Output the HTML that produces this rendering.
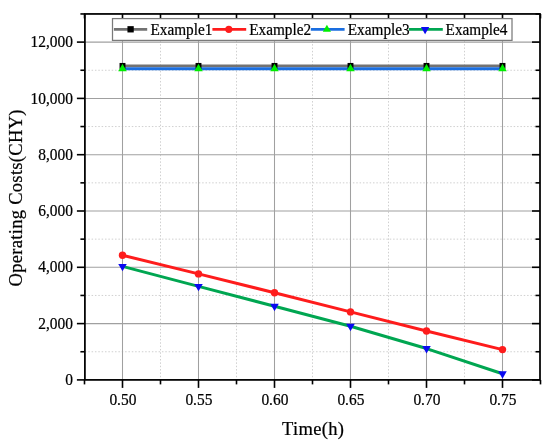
<!DOCTYPE html><html><head><meta charset="utf-8"><style>html,body{margin:0;padding:0;background:#fff}svg{display:block}text{font-family:"Liberation Serif", "Times New Roman", serif;stroke:#000;stroke-width:0.22px}</style></head><body>
<svg width="550" height="444" viewBox="0 0 550 444">
<rect width="550" height="444" fill="#fff"/>
<line x1="160.50" y1="13.95" x2="160.50" y2="379.9" stroke="#d0d0d0" stroke-width="1" stroke-dasharray="1.5 1.85"/>
<line x1="236.50" y1="13.95" x2="236.50" y2="379.9" stroke="#d0d0d0" stroke-width="1" stroke-dasharray="1.5 1.85"/>
<line x1="312.50" y1="13.95" x2="312.50" y2="379.9" stroke="#d0d0d0" stroke-width="1" stroke-dasharray="1.5 1.85"/>
<line x1="388.50" y1="13.95" x2="388.50" y2="379.9" stroke="#d0d0d0" stroke-width="1" stroke-dasharray="1.5 1.85"/>
<line x1="464.50" y1="13.95" x2="464.50" y2="379.9" stroke="#d0d0d0" stroke-width="1" stroke-dasharray="1.5 1.85"/>
<line x1="84.9" y1="351.75" x2="540.0" y2="351.75" stroke="#d0d0d0" stroke-width="1" stroke-dasharray="1.5 1.85"/>
<line x1="84.9" y1="295.45" x2="540.0" y2="295.45" stroke="#d0d0d0" stroke-width="1" stroke-dasharray="1.5 1.85"/>
<line x1="84.9" y1="239.15" x2="540.0" y2="239.15" stroke="#d0d0d0" stroke-width="1" stroke-dasharray="1.5 1.85"/>
<line x1="84.9" y1="182.85" x2="540.0" y2="182.85" stroke="#d0d0d0" stroke-width="1" stroke-dasharray="1.5 1.85"/>
<line x1="84.9" y1="126.55" x2="540.0" y2="126.55" stroke="#d0d0d0" stroke-width="1" stroke-dasharray="1.5 1.85"/>
<line x1="84.9" y1="70.25" x2="540.0" y2="70.25" stroke="#d0d0d0" stroke-width="1" stroke-dasharray="1.5 1.85"/>
<line x1="122.50" y1="13.95" x2="122.50" y2="379.9" stroke="#a0a0a0" stroke-width="1.05"/>
<line x1="198.50" y1="13.95" x2="198.50" y2="379.9" stroke="#a0a0a0" stroke-width="1.05"/>
<line x1="274.50" y1="13.95" x2="274.50" y2="379.9" stroke="#a0a0a0" stroke-width="1.05"/>
<line x1="350.50" y1="13.95" x2="350.50" y2="379.9" stroke="#a0a0a0" stroke-width="1.05"/>
<line x1="426.50" y1="13.95" x2="426.50" y2="379.9" stroke="#a0a0a0" stroke-width="1.05"/>
<line x1="502.50" y1="13.95" x2="502.50" y2="379.9" stroke="#a0a0a0" stroke-width="1.05"/>
<line x1="84.9" y1="323.60" x2="540.0" y2="323.60" stroke="#a0a0a0" stroke-width="1.05"/>
<line x1="84.9" y1="267.30" x2="540.0" y2="267.30" stroke="#a0a0a0" stroke-width="1.05"/>
<line x1="84.9" y1="211.00" x2="540.0" y2="211.00" stroke="#a0a0a0" stroke-width="1.05"/>
<line x1="84.9" y1="154.70" x2="540.0" y2="154.70" stroke="#a0a0a0" stroke-width="1.05"/>
<line x1="84.9" y1="98.40" x2="540.0" y2="98.40" stroke="#a0a0a0" stroke-width="1.05"/>
<line x1="84.9" y1="42.10" x2="540.0" y2="42.10" stroke="#a0a0a0" stroke-width="1.05"/>
<polyline points="122.50,65.90 198.50,65.90 274.50,65.90 350.50,65.90 426.50,65.90 502.50,65.90" fill="none" stroke="#727272" stroke-width="2.6" stroke-linejoin="round"/>
<polyline points="122.50,68.70 198.50,68.70 274.50,68.70 350.50,68.70 426.50,68.70 502.50,68.70" fill="none" stroke="#1a6ee0" stroke-width="3.0" stroke-linejoin="round"/>
<polyline points="122.50,255.25 198.50,273.90 274.50,292.70 350.50,311.90 426.50,331.00 502.50,349.60" fill="none" stroke="#fe1c1c" stroke-width="3.0" stroke-linejoin="round"/>
<polyline points="122.50,266.35 198.50,286.35 274.50,306.25 350.50,326.25 426.50,348.55 502.50,373.75" fill="none" stroke="#00a651" stroke-width="3.0" stroke-linejoin="round"/>
<rect x="119.55" y="62.95" width="5.9" height="5.9" fill="#000"/>
<rect x="195.55" y="62.95" width="5.9" height="5.9" fill="#000"/>
<rect x="271.55" y="62.95" width="5.9" height="5.9" fill="#000"/>
<rect x="347.55" y="62.95" width="5.9" height="5.9" fill="#000"/>
<rect x="423.55" y="62.95" width="5.9" height="5.9" fill="#000"/>
<rect x="499.55" y="62.95" width="5.9" height="5.9" fill="#000"/>
<polygon points="122.50,63.79 126.75,71.15 118.25,71.15" fill="#00ee00"/>
<polygon points="198.50,63.79 202.75,71.15 194.25,71.15" fill="#00ee00"/>
<polygon points="274.50,63.79 278.75,71.15 270.25,71.15" fill="#00ee00"/>
<polygon points="350.50,63.79 354.75,71.15 346.25,71.15" fill="#00ee00"/>
<polygon points="426.50,63.79 430.75,71.15 422.25,71.15" fill="#00ee00"/>
<polygon points="502.50,63.79 506.75,71.15 498.25,71.15" fill="#00ee00"/>
<circle cx="122.50" cy="255.25" r="3.7" fill="#fe1c1c"/>
<circle cx="198.50" cy="273.90" r="3.7" fill="#fe1c1c"/>
<circle cx="274.50" cy="292.70" r="3.7" fill="#fe1c1c"/>
<circle cx="350.50" cy="311.90" r="3.7" fill="#fe1c1c"/>
<circle cx="426.50" cy="331.00" r="3.7" fill="#fe1c1c"/>
<circle cx="502.50" cy="349.60" r="3.7" fill="#fe1c1c"/>
<polygon points="118.25,263.90 126.75,263.90 122.50,271.26" fill="#0a0af0"/>
<polygon points="194.25,283.90 202.75,283.90 198.50,291.26" fill="#0a0af0"/>
<polygon points="270.25,303.80 278.75,303.80 274.50,311.16" fill="#0a0af0"/>
<polygon points="346.25,323.80 354.75,323.80 350.50,331.16" fill="#0a0af0"/>
<polygon points="422.25,346.10 430.75,346.10 426.50,353.46" fill="#0a0af0"/>
<polygon points="498.25,371.30 506.75,371.30 502.50,378.66" fill="#0a0af0"/>
<line x1="76.90" y1="379.90" x2="84.9" y2="379.90" stroke="#000" stroke-width="1.6"/>
<line x1="532.00" y1="379.90" x2="540.0" y2="379.90" stroke="#000" stroke-width="1.6"/>
<line x1="80.40" y1="351.75" x2="84.9" y2="351.75" stroke="#000" stroke-width="1.6"/>
<line x1="535.50" y1="351.75" x2="540.0" y2="351.75" stroke="#000" stroke-width="1.6"/>
<line x1="76.90" y1="323.60" x2="84.9" y2="323.60" stroke="#000" stroke-width="1.6"/>
<line x1="532.00" y1="323.60" x2="540.0" y2="323.60" stroke="#000" stroke-width="1.6"/>
<line x1="80.40" y1="295.45" x2="84.9" y2="295.45" stroke="#000" stroke-width="1.6"/>
<line x1="535.50" y1="295.45" x2="540.0" y2="295.45" stroke="#000" stroke-width="1.6"/>
<line x1="76.90" y1="267.30" x2="84.9" y2="267.30" stroke="#000" stroke-width="1.6"/>
<line x1="532.00" y1="267.30" x2="540.0" y2="267.30" stroke="#000" stroke-width="1.6"/>
<line x1="80.40" y1="239.15" x2="84.9" y2="239.15" stroke="#000" stroke-width="1.6"/>
<line x1="535.50" y1="239.15" x2="540.0" y2="239.15" stroke="#000" stroke-width="1.6"/>
<line x1="76.90" y1="211.00" x2="84.9" y2="211.00" stroke="#000" stroke-width="1.6"/>
<line x1="532.00" y1="211.00" x2="540.0" y2="211.00" stroke="#000" stroke-width="1.6"/>
<line x1="80.40" y1="182.85" x2="84.9" y2="182.85" stroke="#000" stroke-width="1.6"/>
<line x1="535.50" y1="182.85" x2="540.0" y2="182.85" stroke="#000" stroke-width="1.6"/>
<line x1="76.90" y1="154.70" x2="84.9" y2="154.70" stroke="#000" stroke-width="1.6"/>
<line x1="532.00" y1="154.70" x2="540.0" y2="154.70" stroke="#000" stroke-width="1.6"/>
<line x1="80.40" y1="126.55" x2="84.9" y2="126.55" stroke="#000" stroke-width="1.6"/>
<line x1="535.50" y1="126.55" x2="540.0" y2="126.55" stroke="#000" stroke-width="1.6"/>
<line x1="76.90" y1="98.40" x2="84.9" y2="98.40" stroke="#000" stroke-width="1.6"/>
<line x1="532.00" y1="98.40" x2="540.0" y2="98.40" stroke="#000" stroke-width="1.6"/>
<line x1="80.40" y1="70.25" x2="84.9" y2="70.25" stroke="#000" stroke-width="1.6"/>
<line x1="535.50" y1="70.25" x2="540.0" y2="70.25" stroke="#000" stroke-width="1.6"/>
<line x1="76.90" y1="42.10" x2="84.9" y2="42.10" stroke="#000" stroke-width="1.6"/>
<line x1="532.00" y1="42.10" x2="540.0" y2="42.10" stroke="#000" stroke-width="1.6"/>
<line x1="80.40" y1="13.95" x2="84.9" y2="13.95" stroke="#000" stroke-width="1.6"/>
<line x1="535.50" y1="13.95" x2="540.0" y2="13.95" stroke="#000" stroke-width="1.6"/>
<line x1="84.50" y1="379.9" x2="84.50" y2="384.40" stroke="#000" stroke-width="1.6"/>
<line x1="84.50" y1="13.95" x2="84.50" y2="18.45" stroke="#000" stroke-width="1.6"/>
<line x1="122.50" y1="379.9" x2="122.50" y2="387.90" stroke="#000" stroke-width="1.6"/>
<line x1="122.50" y1="13.95" x2="122.50" y2="21.95" stroke="#000" stroke-width="1.6"/>
<line x1="160.50" y1="379.9" x2="160.50" y2="384.40" stroke="#000" stroke-width="1.6"/>
<line x1="160.50" y1="13.95" x2="160.50" y2="18.45" stroke="#000" stroke-width="1.6"/>
<line x1="198.50" y1="379.9" x2="198.50" y2="387.90" stroke="#000" stroke-width="1.6"/>
<line x1="198.50" y1="13.95" x2="198.50" y2="21.95" stroke="#000" stroke-width="1.6"/>
<line x1="236.50" y1="379.9" x2="236.50" y2="384.40" stroke="#000" stroke-width="1.6"/>
<line x1="236.50" y1="13.95" x2="236.50" y2="18.45" stroke="#000" stroke-width="1.6"/>
<line x1="274.50" y1="379.9" x2="274.50" y2="387.90" stroke="#000" stroke-width="1.6"/>
<line x1="274.50" y1="13.95" x2="274.50" y2="21.95" stroke="#000" stroke-width="1.6"/>
<line x1="312.50" y1="379.9" x2="312.50" y2="384.40" stroke="#000" stroke-width="1.6"/>
<line x1="312.50" y1="13.95" x2="312.50" y2="18.45" stroke="#000" stroke-width="1.6"/>
<line x1="350.50" y1="379.9" x2="350.50" y2="387.90" stroke="#000" stroke-width="1.6"/>
<line x1="350.50" y1="13.95" x2="350.50" y2="21.95" stroke="#000" stroke-width="1.6"/>
<line x1="388.50" y1="379.9" x2="388.50" y2="384.40" stroke="#000" stroke-width="1.6"/>
<line x1="388.50" y1="13.95" x2="388.50" y2="18.45" stroke="#000" stroke-width="1.6"/>
<line x1="426.50" y1="379.9" x2="426.50" y2="387.90" stroke="#000" stroke-width="1.6"/>
<line x1="426.50" y1="13.95" x2="426.50" y2="21.95" stroke="#000" stroke-width="1.6"/>
<line x1="464.50" y1="379.9" x2="464.50" y2="384.40" stroke="#000" stroke-width="1.6"/>
<line x1="464.50" y1="13.95" x2="464.50" y2="18.45" stroke="#000" stroke-width="1.6"/>
<line x1="502.50" y1="379.9" x2="502.50" y2="387.90" stroke="#000" stroke-width="1.6"/>
<line x1="502.50" y1="13.95" x2="502.50" y2="21.95" stroke="#000" stroke-width="1.6"/>
<line x1="540.50" y1="379.9" x2="540.50" y2="384.40" stroke="#000" stroke-width="1.6"/>
<line x1="540.50" y1="13.95" x2="540.50" y2="18.45" stroke="#000" stroke-width="1.6"/>
<rect x="112.5" y="18.6" width="399.5" height="21.799999999999997" fill="#fff" stroke="#7a7a7a" stroke-width="1.25"/>
<line x1="113.9" y1="29.3" x2="147.2" y2="29.3" stroke="#727272" stroke-width="2.8" stroke-linecap="butt"/>
<rect x="127.45" y="26.15" width="6.3" height="6.3" fill="#000"/>
<line x1="212.4" y1="29.3" x2="246.2" y2="29.3" stroke="#fe1c1c" stroke-width="2.8" stroke-linecap="butt"/>
<circle cx="228.80" cy="29.30" r="3.6" fill="#fe1c1c"/>
<line x1="310.8" y1="29.3" x2="344.6" y2="29.3" stroke="#1a6ee0" stroke-width="2.8" stroke-linecap="butt"/>
<polygon points="326.90,24.67 331.00,31.77 322.80,31.77" fill="#00ee00"/>
<line x1="408.9" y1="29.3" x2="442.8" y2="29.3" stroke="#00a651" stroke-width="2.8" stroke-linecap="butt"/>
<polygon points="420.95,27.00 429.25,27.00 425.10,34.19" fill="#0a0af0"/>
<text transform="translate(150.5,34.8) scale(0.955,1)" font-size="16" fill="#000">Example1</text>
<text transform="translate(249.2,34.8) scale(0.955,1)" font-size="16" fill="#000">Example2</text>
<text transform="translate(347.8,34.8) scale(0.955,1)" font-size="16" fill="#000">Example3</text>
<text transform="translate(445.6,34.8) scale(0.955,1)" font-size="16" fill="#000">Example4</text>
<rect x="84.9" y="13.95" width="455.1" height="365.95" fill="none" stroke="#000" stroke-width="1.75"/>
<text transform="translate(73,385.00) scale(0.965,1)" font-size="16" text-anchor="end" fill="#000">0</text>
<text transform="translate(73,328.70) scale(0.965,1)" font-size="16" text-anchor="end" fill="#000">2,000</text>
<text transform="translate(73,272.40) scale(0.965,1)" font-size="16" text-anchor="end" fill="#000">4,000</text>
<text transform="translate(73,216.10) scale(0.965,1)" font-size="16" text-anchor="end" fill="#000">6,000</text>
<text transform="translate(73,159.80) scale(0.965,1)" font-size="16" text-anchor="end" fill="#000">8,000</text>
<text transform="translate(73,103.50) scale(0.965,1)" font-size="16" text-anchor="end" fill="#000">10,000</text>
<text transform="translate(73,47.20) scale(0.965,1)" font-size="16" text-anchor="end" fill="#000">12,000</text>
<text transform="translate(122.90,405.4) scale(0.965,1)" font-size="16" text-anchor="middle" fill="#000">0.50</text>
<text transform="translate(198.90,405.4) scale(0.965,1)" font-size="16" text-anchor="middle" fill="#000">0.55</text>
<text transform="translate(274.90,405.4) scale(0.965,1)" font-size="16" text-anchor="middle" fill="#000">0.60</text>
<text transform="translate(350.90,405.4) scale(0.965,1)" font-size="16" text-anchor="middle" fill="#000">0.65</text>
<text transform="translate(426.90,405.4) scale(0.965,1)" font-size="16" text-anchor="middle" fill="#000">0.70</text>
<text transform="translate(502.90,405.4) scale(0.965,1)" font-size="16" text-anchor="middle" fill="#000">0.75</text>
<text x="282.0" y="434.6" font-size="18.5" textLength="62" lengthAdjust="spacing" fill="#000">Time(h)</text>
<text transform="translate(21.5,286.5) rotate(-90)" x="0" y="0" font-size="18.5" textLength="177" lengthAdjust="spacing" fill="#000">Operating Costs(CHY)</text>
</svg></body></html>
